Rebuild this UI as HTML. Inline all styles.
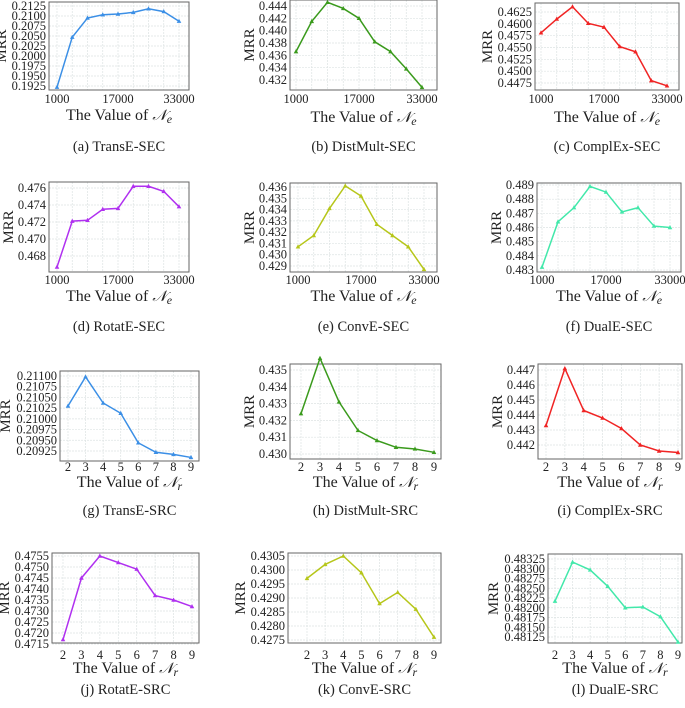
<!DOCTYPE html>
<html><head><meta charset="utf-8"><style>
html,body{margin:0;padding:0;background:#fff;}
svg{display:block;font-family:"Liberation Serif",serif;}
</style></head><body>
<svg id="fig" width="685" height="708" viewBox="0 0 685 708" xmlns="http://www.w3.org/2000/svg"></svg>
<script>
const xsSEC = [1000,5000,9000,13000,17000,21000,25000,29000,33000];
const xTicksSEC = [1000,17000,33000];
const xsSRC = [2,3,4,5,6,7,8,9];
const xTicksSRC = [2,3,4,5,6,7,8,9];
const valsA = [0.1922,0.2047,0.2095,0.2103,0.2105,0.2109,0.2118,0.2111,0.2087];
const valsB = [0.4366,0.4415,0.4446,0.4436,0.4420,0.4382,0.4366,0.4338,0.4308];
const valsC = [0.4581,0.4610,0.4636,0.4601,0.4593,0.4552,0.4541,0.4480,0.4469];
const valsD = [0.4667,0.4721,0.4722,0.4735,0.4736,0.4762,0.4762,0.4756,0.4738];
const valsE = [0.4307,0.4317,0.4341,0.4361,0.4352,0.4327,0.4317,0.4307,0.4287];
const valsF = [0.4832,0.4864,0.4874,0.4889,0.4885,0.4871,0.4874,0.4861,0.4860];
const valsG = [0.21030,0.21098,0.21037,0.21013,0.20944,0.20922,0.20917,0.20910];
const valsH = [0.4324,0.4357,0.4331,0.4314,0.4308,0.4304,0.4303,0.4301];
const valsI = [0.4433,0.4471,0.4443,0.4438,0.4431,0.4420,0.4416,0.4415];
const valsJ = [0.4717,0.4745,0.4755,0.4752,0.4749,0.4737,0.4735,0.4732];
const valsK = [0.4297,0.4302,0.4305,0.4299,0.4288,0.4292,0.4286,0.4276];
const valsL = [0.48217,0.48317,0.48297,0.48255,0.48200,0.48202,0.48177,0.48112];
const yTicksA = [0.1925,0.1950,0.1975,0.2000,0.2025,0.2050,0.2075,0.2100,0.2125];
const yTicksB = [0.432,0.434,0.436,0.438,0.440,0.442,0.444];
const yTicksC = [0.4475,0.4500,0.4525,0.4550,0.4575,0.4600,0.4625];
const yTicksD = [0.468,0.470,0.472,0.474,0.476];
const yTicksE = [0.429,0.430,0.431,0.432,0.433,0.434,0.435,0.436];
const yTicksF = [0.483,0.484,0.485,0.486,0.487,0.488,0.489];
const yTicksG = [0.20925,0.20950,0.20975,0.21000,0.21025,0.21050,0.21075,0.21100];
const yTicksH = [0.430,0.431,0.432,0.433,0.434,0.435];
const yTicksI = [0.442,0.443,0.444,0.445,0.446,0.447];
const yTicksJ = [0.4715,0.4720,0.4725,0.4730,0.4735,0.4740,0.4745,0.4750,0.4755];
const yTicksK = [0.4275,0.4280,0.4285,0.4290,0.4295,0.4300,0.4305];
const yTicksL = [0.48125,0.48150,0.48175,0.48200,0.48225,0.48250,0.48275,0.48300,0.48325];

const NS="http://www.w3.org/2000/svg";
const svg=document.getElementById('fig');
function mk(tag,attrs,parent){const e=document.createElementNS(NS,tag);for(const k in attrs)e.setAttribute(k,attrs[k]);(parent||svg).appendChild(e);return e;}

const panels=[
 {id:'a',name:'TransE-SEC',xs:xsSEC,xt:xTicksSEC,v:valsA,yt:yTicksA,dec:4,col:'#3b8fe6',box:[49,2,189,90],x0:57,x1:179,yr:[0.2125,6,0.1925,86],sub:'e',lab:115,cap:146,xl:99},
 {id:'b',name:'DistMult-SEC',xs:xsSEC,xt:xTicksSEC,v:valsB,yt:yTicksB,dec:3,col:'#3a9a1c',box:[290,0,437,90],x0:296,x1:422,yr:[0.444,6,0.432,80],sub:'e',lab:117,cap:146,xl:99},
 {id:'c',name:'ComplEx-SEC',xs:xsSEC,xt:xTicksSEC,v:valsC,yt:yTicksC,dec:4,col:'#f02424',box:[535,3,679,90],x0:541,x1:667,yr:[0.4625,12,0.4475,83],sub:'e',lab:117,cap:146,xl:99},
 {id:'d',name:'RotatE-SEC',xs:xsSEC,xt:xTicksSEC,v:valsD,yt:yTicksD,dec:3,col:'#b030f0',box:[49,182,189,272],x0:57,x1:179,yr:[0.476,188,0.468,256],sub:'e',lab:296,cap:326,xl:280},
 {id:'e',name:'ConvE-SEC',xs:xsSEC,xt:xTicksSEC,v:valsE,yt:yTicksE,dec:3,col:'#b6c61a',box:[290,183,437,272],x0:298,x1:424,yr:[0.436,187,0.429,266],sub:'e',lab:296,cap:326,xl:280},
 {id:'f',name:'DualE-SEC',xs:xsSEC,xt:xTicksSEC,v:valsF,yt:yTicksF,dec:3,col:'#42e8aa',box:[537,183,681,272],x0:542,x1:670,yr:[0.489,185,0.483,270],sub:'e',lab:296,cap:326,xl:280},
 {id:'g',name:'TransE-SRC',xs:xsSRC,xt:xTicksSRC,v:valsG,yt:yTicksG,dec:5,col:'#3b8fe6',box:[60,371,199,461],x0:68,x1:191,yr:[0.211,376,0.20925,451],sub:'r',lab:482,cap:510,xl:467},
 {id:'h',name:'DistMult-SRC',xs:xsSRC,xt:xTicksSRC,v:valsH,yt:yTicksH,dec:3,col:'#3a9a1c',box:[290,364,441,459],x0:301,x1:434,yr:[0.435,370,0.430,454],sub:'r',lab:482,cap:510,xl:467},
 {id:'i',name:'ComplEx-SRC',xs:xsSRC,xt:xTicksSRC,v:valsI,yt:yTicksI,dec:3,col:'#f02424',box:[538,364,682,459],x0:546,x1:678,yr:[0.447,370,0.442,445],sub:'r',lab:482,cap:510,xl:467},
 {id:'j',name:'RotatE-SRC',xs:xsSRC,xt:xTicksSRC,v:valsJ,yt:yTicksJ,dec:4,col:'#b030f0',box:[52,553,199,643],x0:63,x1:192,yr:[0.4755,556,0.4715,644],sub:'r',lab:668,cap:689,xl:655},
 {id:'k',name:'ConvE-SRC',xs:xsSRC,xt:xTicksSRC,v:valsK,yt:yTicksK,dec:4,col:'#b6c61a',box:[288,553,441,643],x0:307,x1:434,yr:[0.4305,556,0.4275,640],sub:'r',lab:668,cap:689,xl:655},
 {id:'l',name:'DualE-SRC',xs:xsSRC,xt:xTicksSRC,v:valsL,yt:yTicksL,dec:5,col:'#42e8aa',box:[548,554,682,643],x0:555,x1:678,yr:[0.48325,559,0.48125,637],sub:'r',lab:668,cap:689,xl:655}
];

panels.forEach(p=>{
  const g=mk('g',{});
  
  
  const [l,t,r,b]=p.box;
  const xmin=p.xs[0],xmax=p.xs[p.xs.length-1];
  const X=v=>p.x0+(v-xmin)/(xmax-xmin)*(p.x1-p.x0);
  const Y=v=>p.yr[1]+(v-p.yr[0])/(p.yr[2]-p.yr[0])*(p.yr[3]-p.yr[1]);
  p.xs.forEach(v=>{const gl=mk('line',{x1:X(v),x2:X(v),y1:t,y2:b,stroke:'#dde3e3','stroke-width':0.7,'stroke-dasharray':'2,1'},g);
    });
  p.yt.forEach(v=>{const gl=mk('line',{x1:l,x2:r,y1:Y(v),y2:Y(v),stroke:'#dde3e3','stroke-width':0.7,'stroke-dasharray':'2,1'},g);
    });
  const fr=mk('rect',{x:l,y:t,width:r-l,height:b-t,fill:'none',stroke:'#666','stroke-width':1},g);
  
  p.yt.forEach(v=>{const tx=mk('text',{x:l-3,y:Y(v)+4,'text-anchor':'end','font-size':12.5,fill:'#222'},g);
    tx.textContent=v.toFixed(p.dec);
    });
  p.xt.forEach(v=>{const tx=mk('text',{x:X(v),y:p.xl+4,'text-anchor':'middle','font-size':12.5,fill:'#222'},g);
    tx.textContent=String(v);
    });
  const yl=mk('text',{x:0,y:0,'text-anchor':'middle','font-size':15,fill:'#222',transform:`translate(${l-(p.dec===5?50:p.dec===4?43:36)},${(t+b)/2}) rotate(-90)`},g);
  yl.textContent='MRR';
  
  const xl=mk('text',{x:(l+r)/2,y:p.lab+5,'text-anchor':'middle','font-size':16,fill:'#222'},g);
  xl.textContent='The Value of ';
  const ts=mk('tspan',{'font-style':'italic','font-family':'"DejaVu Serif",serif','font-size':15},xl);ts.textContent='\u{1D4A9}';
  const ts2=mk('tspan',{'font-style':'italic','font-size':12,dy:3},xl);ts2.textContent=p.sub;
  
  const cp=mk('text',{x:(l+r)/2,y:p.cap+5,'text-anchor':'middle','font-size':14.5,fill:'#222'},g);
  cp.textContent='('+p.id+')  '+p.name;
  
  const pts=p.v.map((v,i)=>X(p.xs[i])+','+Y(v)).join(' ');
  const pl=mk('polyline',{points:pts,fill:'none',stroke:p.col,'stroke-width':1.5},g);
  
  p.v.forEach((v,i)=>{const cx=X(p.xs[i]),cy=Y(v);
    const m=mk('path',{d:`M${cx},${cy-2.5} L${cx+2.3},${cy+1.7} L${cx-2.3},${cy+1.7}Z`,fill:p.col},g);
    });
});
</script>
</body></html>
